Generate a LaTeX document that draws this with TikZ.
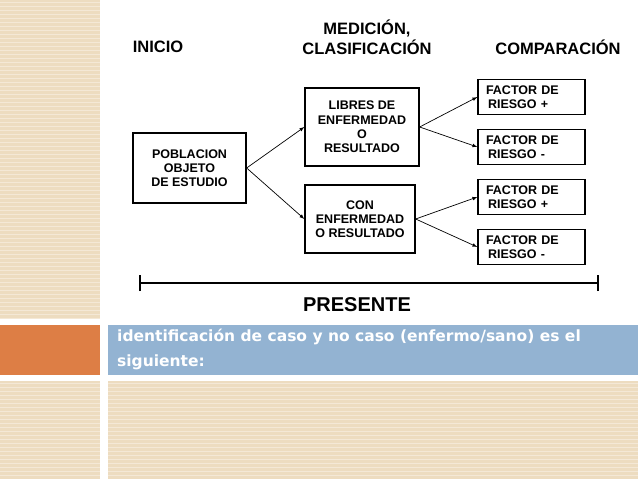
\documentclass[tikz,border=0pt]{standalone}
\usepackage{fontspec}
\setmainfont{Liberation Sans}
\newfontfamily\barfont{DejaVu Sans}
\begin{document}
\begin{tikzpicture}[x=1pt,y=-1pt,
  box/.style={draw,line width=1.3pt,align=center,font=\bfseries\fontsize{12.5}{14.3}\selectfont,inner sep=0pt},
  hdr/.style={font=\bfseries\fontsize{16.5}{20}\selectfont,align=center},
  arr/.style={->,>=latex,line width=0.7pt}]
\definecolor{beige}{HTML}{EDDCC0}
\definecolor{stripe}{HTML}{F4E8D6}
\definecolor{orangeb}{HTML}{DD7E45}
\definecolor{blueb}{HTML}{93B3D2}
\useasboundingbox (0,0) rectangle (638,479);
\fill[white] (0,0) rectangle (638,479);
% backgrounds
\fill[beige] (0,0) rectangle (100,318);
\fill[orangeb] (0,325) rectangle (100,375);
\fill[beige] (0,381) rectangle (100,479);
\fill[blueb] (108,325) rectangle (638,375);
\fill[beige] (108,381) rectangle (638,479);
\foreach \y in {2,6,...,318} \draw[stripe,line width=1pt] (0,\y) -- (100,\y);
\foreach \y in {383,387,...,479} {\draw[stripe,line width=1pt] (0,\y) -- (100,\y); \draw[stripe,line width=1pt] (108,\y) -- (638,\y);}
\node[font=\barfont\bfseries\fontsize{15.5}{25}\selectfont,text=white,anchor=north west,align=left,inner sep=0pt] (bar) at (117,329) {identificación de caso y no caso (enfermo/sano) es el\\siguiente:};
% headers
\node[hdr] (ini) at (158,47) {INICIO};
\node[hdr] (med) at (367,37) {MEDICIÓN,\\CLASIFICACIÓN};
\node[hdr] (comp) at (558,47) {COMPARACIÓN};
% boxes
\node[box,minimum width=113pt,minimum height=70pt] (pob) at (189.5,168) {POBLACION\\OBJETO\\DE ESTUDIO};
\node[box,minimum width=114pt,minimum height=78pt] (lib) at (362,127) {LIBRES DE\\ENFERMEDAD\\O\\RESULTADO};
\node[box,minimum width=110pt,minimum height=68pt] (con) at (360,219) {CON\\ENFERMEDAD\\O RESULTADO};
\foreach \n/\yy/\s in {f1/97/+,f2/147/-,f3/197/+,f4/247/-}
  \node[box,align=left,text width=97pt,inner xsep=5pt,minimum height=35pt] (\n) at (531.5,\yy) {\hspace*{3pt}FACTOR DE\\\hspace*{5pt}RIESGO \s};
\draw[arr] (pob.east) -- (lib.west);
\draw[arr] (pob.east) -- (con.west);
\draw[arr] (lib.east) -- (f1.west);
\draw[arr] (lib.east) -- (f2.west);
\draw[arr] (con.east) -- (f3.west);
\draw[arr] (con.east) -- (f4.west);
% timeline
\coordinate (t1) at (140,283);
\coordinate (t2) at (598,283);
\draw[line width=1.3pt] (t1) -- (t2);
\draw[line width=1.3pt] ([yshift=-8pt]t1) -- ([yshift=8pt]t1);
\draw[line width=1.3pt] ([yshift=-8pt]t2) -- ([yshift=8pt]t2);
\node[font=\bfseries\fontsize{20}{22}\selectfont] (pres) at (357,305) {PRESENTE};
\end{tikzpicture}
\end{document}
